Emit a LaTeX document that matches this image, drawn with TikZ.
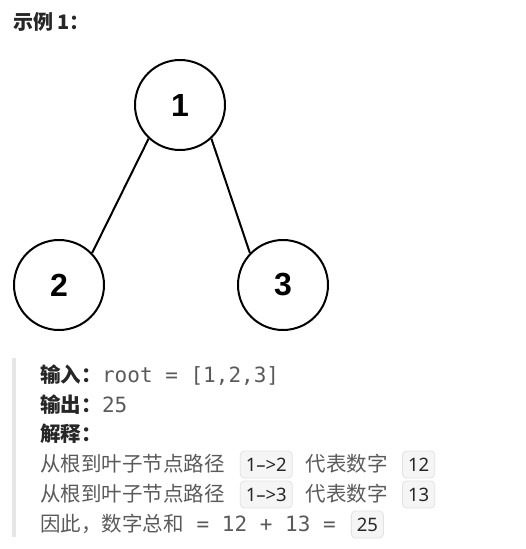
\documentclass[tikz,border=0pt]{standalone}
\usepackage{fontspec}
\usepackage{tikz}
\usetikzlibrary{positioning}
\newfontfamily\cjk{Noto Sans CJK SC}
\newfontfamily\treefont{Liberation Sans}
\newfontfamily\codefont{DejaVu Sans Mono}
\newfontfamily\boxfont{Noto Sans}
\definecolor{txtgray}{HTML}{5A5A5A}
\definecolor{txtdark}{HTML}{262626}
\definecolor{boxfill}{HTML}{F5F5F5}
\definecolor{boxline}{HTML}{E2E2E2}
\definecolor{quotebar}{HTML}{E6E6E6}

\begin{document}
\begin{tikzpicture}[x=1pt,y=-1pt,
  treenode/.style={circle,draw,line width=2pt,minimum size=90pt,inner sep=0pt,font=\treefont\bfseries\fontsize{32}{32}\selectfont},
  edge/.style={line width=2pt},
  boldlab/.style={anchor=base west,inner sep=0pt,text=txtdark,font=\cjk\bfseries\fontsize{20.5}{24}\selectfont},
  plain/.style={anchor=base west,inner sep=0pt,text=txtgray,font=\cjk\fontsize{20.5}{24}\selectfont},
  mono/.style={anchor=base west,inner sep=0pt,text=txtgray,font=\codefont\fontsize{21}{24}\selectfont},
  codebox/.style={anchor=base west,fill=boxfill,draw=boxline,line width=0.8pt,rounded corners=4pt,inner xsep=5.5pt,inner ysep=6pt,text height=14pt,text depth=1pt,text=txtdark,font=\boxfont\fontsize{18.5}{20}\selectfont}]
  \useasboundingbox (0,0) rectangle (525,549);
  % 标题
  \node[boldlab,font=\cjk\bfseries\fontsize{20}{24}\selectfont] (title) at (13,29) {示例 1：};
  % 二叉树：根 1，左 2，右 3
  \node[treenode] (n1) at (180,105) {1};
  \node[treenode] (n2) at (59,285) {2};
  \node[treenode] (n3) at (283,285) {3};
  \draw[edge] (n1.227) -- (n2.44);
  \draw[edge] (n1.313) -- (n3.136);
  % 引用块左侧竖线
  \fill[quotebar] (12,358) rectangle (15.5,537);
  % 输入 / 输出 / 解释
  \node[boldlab] (inlab) at (40,382) {输入：};
  \node[mono,right=0pt of inlab.base east,anchor=base west] (intxt) {root = [1,2,3]};
  \node[boldlab] (outlab) at (40,412) {输出：};
  \node[mono,right=0pt of outlab.base east,anchor=base west] (outtxt) {25};
  \node[boldlab] (explab) at (40,441.5) {解释：};
  % 两条路径
  \node[plain] (pathA) at (40,471) {从根到叶子节点路径};
  \node[codebox,right=15pt of pathA.base east,anchor=base west] (boxA) {1–>2};
  \node[plain,right=13pt of boxA.base east,anchor=base west] (numA) {代表数字};
  \node[codebox,right=14pt of numA.base east,anchor=base west] (valA) {12};
  \node[plain] (pathB) at (40,501) {从根到叶子节点路径};
  \node[codebox,right=15pt of pathB.base east,anchor=base west] (boxB) {1–>3};
  \node[plain,right=13pt of boxB.base east,anchor=base west] (numB) {代表数字};
  \node[codebox,right=14pt of numB.base east,anchor=base west] (valB) {13};
  % 总和
  \node[plain] (sumlab) at (40,531) {因此，数字总和};
  \node[mono,right=12.6pt of sumlab.base east,anchor=base west] (sumtxt) {= 12 + 13 =};
  \node[codebox,right=15pt of sumtxt.base east,anchor=base west] (sumval) {25};
\end{tikzpicture}
\end{document}
